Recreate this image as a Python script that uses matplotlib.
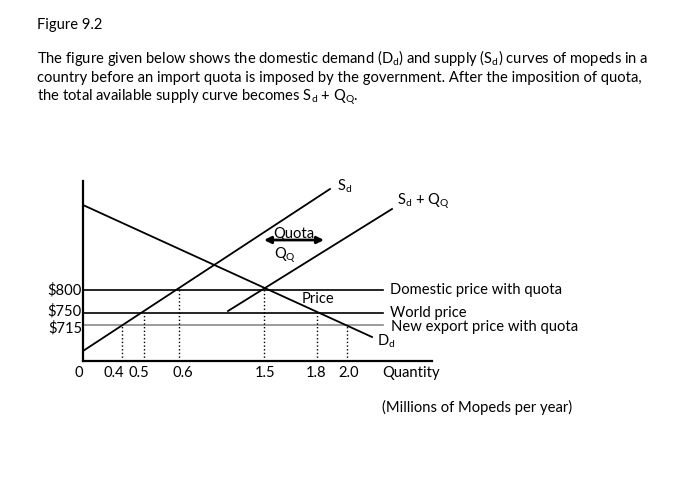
import matplotlib
matplotlib.use('Agg')
from matplotlib import pyplot as plt

plt.rcParams['font.family'] = ['Lato', 'DejaVu Sans']
plt.rcParams['mathtext.default'] = 'regular'
plt.rcParams['font.size'] = 10.6

W, H = 676, 487

# the diagram is schematic, so quantities and prices sit at drawn positions
qty_labels = ['0', '0.4', '0.5', '0.6', '1.5', '1.8', '2.0']
qty_pos = [0, 39, 61, 96, 181, 234, 264]
price_labels = ['$800', '$750', '$715']
price_pos = [71, 48, 36]
price_names = ['Domestic price with quota', 'World price', 'New export price with quota']
price_colors = ['black', 'black', '#8a8a8a']
# price level reached by the dotted line above each quantity
drop_to = [36, 48, 71, 71, 48, 36]

demand_x, demand_y = [0, 289], [156, 24]
supply_x, supply_y = [0, 247], [10, 172]
quota_x, quota_y = [145, 309], [50, 152]

intro = ['The figure given below shows the domestic demand (D$_d$) and supply (S$_d$) curves of mopeds in a',
         'country before an import quota is imposed by the government. After the imposition of quota,',
         'the total available supply curve becomes S$_d$ + Q$_Q$.']

fig = plt.figure(figsize=(W / 100, H / 100), dpi=100)
fig.text(37 / W, 1 - 29 / H, 'Figure 9.2', va='baseline')
for i, line in enumerate(intro):
    fig.text(37 / W, 1 - (63 + 19 * i) / H, line, va='baseline')

ax = fig.add_axes([83 / W, 1 - 361 / H, 349 / W, 180 / H])
ax.set_xlim(0, 349)
ax.set_ylim(0, 180)
for s in ['top', 'right']:
    ax.spines[s].set_visible(False)
for s in ['left', 'bottom']:
    ax.spines[s].set_linewidth(1.6)

for p, c in zip(price_pos, price_colors):
    ax.plot([0, 300], [p, p], color=c, lw=1.2)
ax.text(307, price_pos[0], price_names[0], va='center')
ax.text(307, price_pos[1], price_names[1], va='center')
ax.text(308, price_pos[2] - 2, price_names[2], va='center')

ax.vlines(qty_pos[1:], 0, drop_to, colors='black', linestyles=':', lw=1)

ax.plot(demand_x, demand_y, color='black', lw=1.3)
ax.plot(supply_x, supply_y, color='black', lw=1.3)
ax.plot(quota_x, quota_y, color='black', lw=1.3)

ax.text(demand_x[1] + 5, demand_y[1] - 4, 'D$_d$', va='center')
ax.text(supply_x[1] + 7, supply_y[1] + 3, 'S$_d$', va='center')
ax.text(quota_x[1] + 5, quota_y[1] + 8, 'S$_d$ + Q$_Q$', va='center')

ax.annotate('', xy=(241, 121), xytext=(181, 121),
            arrowprops=dict(arrowstyle='<|-|>', color='black', lw=2,
                            mutation_scale=10, shrinkA=0, shrinkB=0))
ax.text(211, 127, 'Quota', ha='center', va='center')
ax.text(191, 106, 'Q$_Q$', va='center')
ax.text(219, 62, 'Price', va='center')

# labels are placed by hand in the original, a little off their lines
x_nudge = [-4, -8, -5, 4, 1, -1, 2]
y_nudge = [0, 2, -3]
ax.set_xticks(qty_pos, [])
ax.set_yticks(price_pos, [])
for q, lab, dx in zip(qty_pos, qty_labels, x_nudge):
    ax.text(q + dx, -12, lab, ha='center', va='center', clip_on=False)
for p, lab, dy in zip(price_pos, price_labels, y_nudge):
    ax.text(-1, p + dy, lab, ha='right', va='center', clip_on=False)
ax.tick_params(length=0)

ax.text(299, -12, 'Quantity', va='center', clip_on=False)
ax.text(299, -46, '(Millions of Mopeds per year)', va='center', clip_on=False)

fig.savefig('out.png', dpi=100)
